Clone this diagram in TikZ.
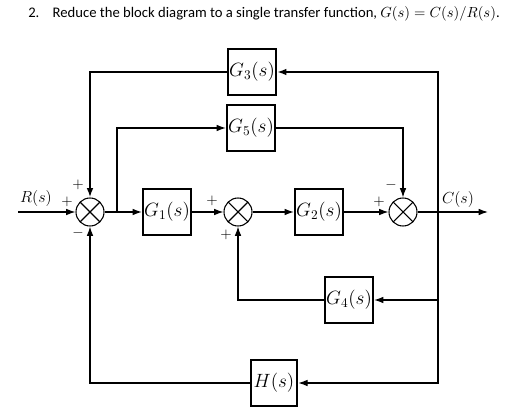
\documentclass[tikz,border=0pt]{standalone}
\usepackage{fontspec}
\setmainfont{Carlito}
\usepackage{tikz}
\usetikzlibrary{shapes.geometric}
\usetikzlibrary{arrows.meta}

\tikzset{
  blk/.style={draw,line width=1.4pt,minimum width=35pt,minimum height=35pt,inner sep=1pt,font=\fontsize{14}{16}\selectfont},
  sumnode/.style={circle,draw,line width=0.8pt,minimum size=21pt,inner sep=0pt,
    path picture={\draw[line width=0.8pt] (path picture bounding box.north west) -- (path picture bounding box.south east)
      (path picture bounding box.north east) -- (path picture bounding box.south west);}},
  sgn/.style={font=\fontsize{11}{13}\selectfont,inner sep=0pt},
  lbl/.style={font=\fontsize{13}{15}\selectfont,inner sep=0pt},
  sig/.style={line width=0.9pt,-{Latex[length=7pt,width=5pt]}}
}

\begin{document}
\begin{tikzpicture}[x=0.75pt,y=-0.75pt]
\useasboundingbox (0,0) rectangle (517,413);
\path (28,14) node(title) [anchor=west,inner sep=0pt,font=\fontsize{11}{13}\selectfont]{2.\hspace{10pt}Reduce the block diagram to a single transfer function, $G(s)=C(s)/R(s)$.};

\path (90,212) node(sum1) [sumnode]{};
\path (167,212) node(g1) [blk]{$G_1(s)$};
\path (238,212) node(sum2) [sumnode]{};
\path (319,212) node(g2) [blk]{$G_2(s)$};
\path (403,212) node(sum3) [sumnode]{};
\path (252,72) node(g3) [blk]{$G_3(s)$};
\path (251,128) node(g5) [blk]{$G_5(s)$};
\path (349,300) node(g4) [blk]{$G_4(s)$};
\path (274,383) node(h) [blk]{$H(s)$};

\coordinate (in) at (18,212);
\coordinate (out) at (488,212);
\coordinate (b1) at (117,212);
\coordinate (b2) at (438,212);

\path (36,199) node(rs) [lbl]{$R(s)$};
\path (458,200) node(cs) [lbl]{$C(s)$};

\path (67,202) node(s1a) [sgn]{$+$};
\path (78,185) node(s1b) [sgn]{$+$};
\path (78,233) node(s1c) [sgn]{$-$};
\path (212,201) node(s2a) [sgn]{$+$};
\path (226,235) node(s2b) [sgn]{$+$};
\path (379,202) node(s3a) [sgn]{$+$};
\path (391,185) node(s3b) [sgn]{$-$};

\draw[sig] (in) -- (sum1.west);
\draw[sig] (sum1.east) -- (g1.west);
\draw[sig] (g1.east) -- (sum2.west);
\draw[sig] (sum2.east) -- (g2.west);
\draw[sig] (g2.east) -- (sum3.west);
\draw[sig] (sum3.east) -- (out);
\draw[sig,line width=1.3pt] (b2) |- (g3.east);
\draw[sig] (b2) |- (g4.east);
\draw[sig] (b2) |- (h.east);
\draw[sig,line width=1.3pt] (g3.west) -| (sum1.north);
\draw[sig] (b1) |- (g5.west);
\draw[sig] (g5.east) -| (sum3.north);
\draw[sig] (g4.west) -| (sum2.south);
\draw[sig] (h.west) -| (sum1.south);
\end{tikzpicture}
\end{document}
